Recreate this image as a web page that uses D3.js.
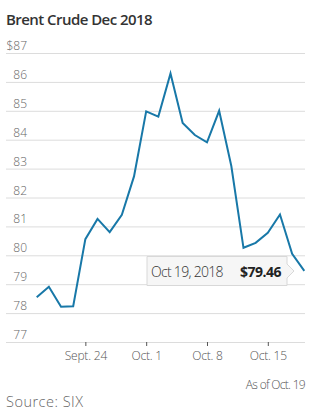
<!DOCTYPE html>
<html><head><meta charset="utf-8">
<script src="https://cdn.jsdelivr.net/npm/d3@7"></script>
<style>
html,body{margin:0;padding:0;background:#fff;}
svg{display:block;}
text{font-family:"Open Sans","Noto Sans",sans-serif;}
</style></head>
<body>
<svg id="c" width="330" height="412"></svg>
<script>
const dates = ["Sep 18","Sep 19","Sep 20","Sep 21","Sep 24","Sep 25","Sep 26","Sep 27","Sep 28",
  "Oct 1","Oct 2","Oct 3","Oct 4","Oct 5","Oct 8","Oct 9","Oct 10","Oct 11","Oct 12",
  "Oct 15","Oct 16","Oct 17","Oct 18"];
const prices = [78.55,78.91,78.22,78.24,80.56,81.26,80.80,81.40,82.73,
  84.98,84.80,86.29,84.58,84.16,83.91,85.00,83.09,80.26,80.43,
  80.78,81.41,80.05,79.46];
const yTicks = [77,78,79,80,81,82,83,84,85,86,87];
const xTickDates = ["Sep 24","Oct 1","Oct 8","Oct 15"];
const xTickLabels = ["Sept. 24","Oct. 1","Oct. 8","Oct. 15"];
const title = "Brent Crude Dec 2018";
const tipDate = "Oct 19, 2018";
const tipValue = "$79.46";
const note = "As of Oct. 19";
const source = "Source: SIX";

const svg = d3.select("#c");
const plotL = 6, plotR = 305;
const x = d3.scalePoint().domain(dates).range([36.7, 304.3]);
const y = d3.scaleLinear().domain([77,87]).range([342,53]);

svg.append("text").attr("x",6).attr("y",25)
  .attr("font-size",15).attr("font-weight",600).attr("fill","#333")
  .attr("letter-spacing",-0.55)
  .text(title);

// y axis / gridlines
const ya = svg.append("g").attr("transform",`translate(${plotL},0)`)
  .call(d3.axisRight(y).tickValues(yTicks).tickSize(plotR-plotL)
    .tickFormat(d => d===87 ? "$"+d : d));
ya.select(".domain").remove();
ya.selectAll(".tick line").attr("stroke","#dcdcdc").attr("stroke-width",1);
ya.selectAll(".tick text").attr("x",21).attr("y",0).attr("dy",-3.5).attr("text-anchor","end")
  .attr("font-size",12).attr("fill","#666").attr("font-family","'Open Sans',sans-serif")
  .attr("font-weight",300);

// x axis
const xa = svg.append("g").attr("transform","translate(0,342)")
  .call(d3.axisBottom(x).tickValues(xTickDates).tickSize(4).tickPadding(5)
    .tickFormat(d => xTickLabels[xTickDates.indexOf(d)]));
xa.select(".domain").remove();
xa.selectAll(".tick line").attr("stroke","#555");
xa.selectAll(".tick text").attr("font-size",12).attr("fill","#555")
  .attr("font-family","'Open Sans',sans-serif").attr("font-weight",300).attr("letter-spacing",-0.2);

// line
svg.append("path").datum(prices)
  .attr("fill","none").attr("stroke","#1878a8").attr("stroke-width",2)
  .attr("stroke-linejoin","miter")
  .attr("d", d3.line().x((d,i)=>x(dates[i])).y(d=>y(d)));

// tooltip
const tip = svg.append("g");
const bx=147, by=256.5, bw=140, bh=29;
const ax = bx+bw+7, ay = by+bh/2;
tip.append("path")
  .attr("d",`M${bx},${by}H${bx+bw}V${ay-7}L${ax},${ay}L${bx+bw},${ay+7}V${by+bh}H${bx}Z`)
  .attr("fill","#f6f6f6").attr("stroke","#d8d8d8").attr("stroke-width",1);
tip.append("text").attr("x",151).attr("y",276.5).attr("font-size",14).attr("fill","#333")
  .attr("font-weight",300).attr("letter-spacing",-0.7).text(tipDate);
tip.append("text").attr("x",281).attr("y",276.5).attr("text-anchor","end").attr("font-size",14)
  .attr("font-weight",700).attr("fill","#222").attr("letter-spacing",-0.5).text(tipValue);

svg.append("text").attr("x",305).attr("y",389).attr("text-anchor","end")
  .attr("font-size",12).attr("fill","#555").attr("font-weight",300).attr("letter-spacing",-0.7).text(note);
svg.append("text").attr("x",6).attr("y",407).attr("font-size",14.5).attr("fill","#666")
  .attr("font-weight",300).attr("letter-spacing",0.5).text(source);
</script>
</body></html>
